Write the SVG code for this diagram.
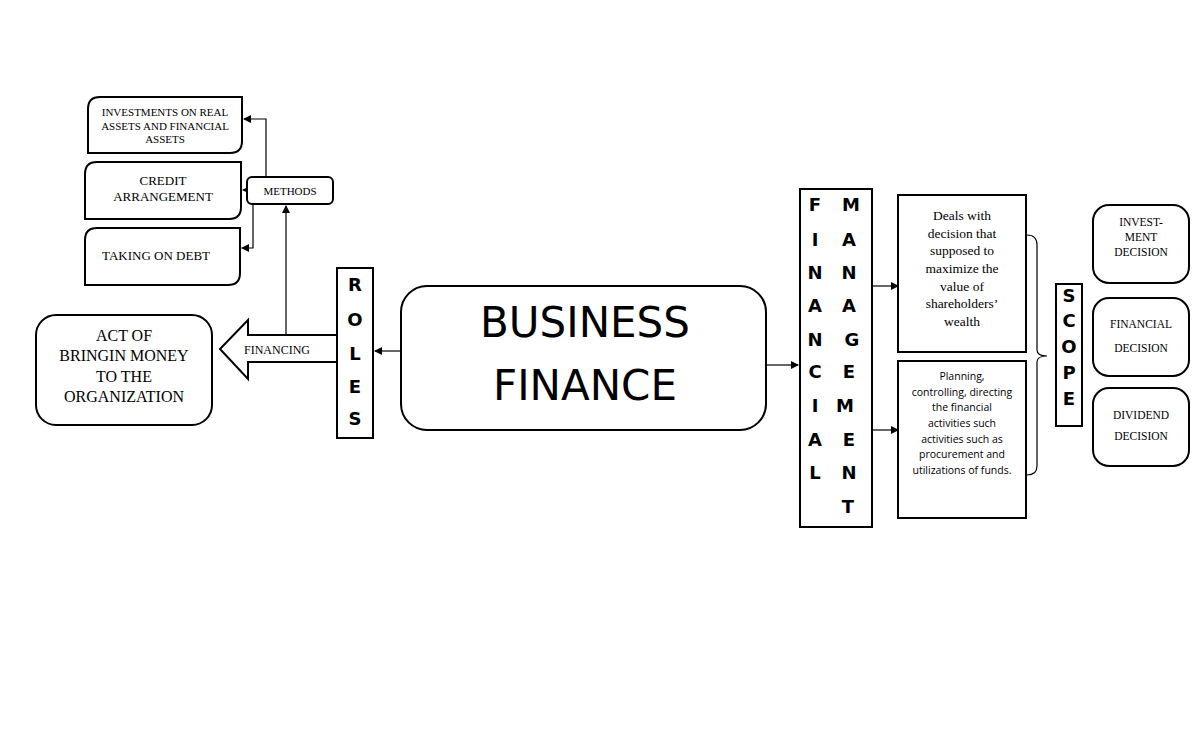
<svg xmlns="http://www.w3.org/2000/svg" width="1200" height="729" viewBox="0 0 1200 729">
<defs>
<marker id="ah" markerWidth="8" markerHeight="8" refX="7" refY="4" orient="auto" markerUnits="userSpaceOnUse"><path d="M0,0 L8,4 L0,8 Z" fill="#000"/></marker>
<style>
.b{fill:#fff;stroke:#000;stroke-width:2}
.t{font-family:"Liberation Serif",serif;text-anchor:middle;fill:#000}
.s{font-family:"DejaVu Sans",sans-serif;font-weight:bold;text-anchor:middle;font-size:18px}
.c{fill:none;stroke:#000;stroke-width:1.2}
</style>
</defs>
<rect width="1200" height="729" fill="#fff"/>
<g id="connectors">
<path class="c" d="M266,177 V119 H244" marker-end="url(#ah)"/>
<path class="c" d="M247,190 H243" marker-end="url(#ah)"/>
<path class="c" d="M253,204 V248 H242" marker-end="url(#ah)"/>
<path class="c" d="M286,335 V206" marker-end="url(#ah)"/>
<path class="c" d="M401,351 H375" marker-end="url(#ah)"/>
<path class="c" d="M766,365 H798" marker-end="url(#ah)"/>
<path class="c" d="M872,286 H898" marker-end="url(#ah)"/>
<path class="c" d="M872,430 H898" marker-end="url(#ah)"/>
<path class="c" d="M1027,235 Q1037,235 1037,245 V350 Q1037,356 1047,356 Q1037,356 1037,362 V466 Q1037,475 1027,475"/>
</g>
<g id="investments"><path class="b" d="M100,97 H242 V141 Q242,153 230,153 H88 V109 Q88,97 100,97 Z" stroke-width="1.5"/>
<text class="t" font-size="11"><tspan x="165" y="116">INVESTMENTS ON REAL</tspan><tspan x="165" y="130">ASSETS AND FINANCIAL</tspan><tspan x="165" y="143">ASSETS</tspan></text></g>
<g id="credit"><path class="b" d="M97,162 H241 V207 Q241,219 229,219 H85 V174 Q85,162 97,162 Z"/>
<text class="t" font-size="13"><tspan x="163" y="185">CREDIT</tspan><tspan x="163" y="201">ARRANGEMENT</tspan></text></g>
<g id="debt"><path class="b" d="M97,228 H240 V273 Q240,285 228,285 H85 V240 Q85,228 97,228 Z"/>
<text class="t" font-size="13" x="156" y="260">TAKING ON DEBT</text></g>
<g id="methods"><rect class="b" x="247" y="177" width="86" height="27" rx="5" stroke-width="1.5"/>
<text class="t" font-size="11" x="290" y="195">METHODS</text></g>
<g id="financing"><path class="b" d="M338,335 H248 V320 L220,349 L248,379 V362 H338" stroke-width="1.5"/>
<text class="t" font-size="12" x="277" y="354">FINANCING</text></g>
<g id="act"><rect class="b" x="36" y="315" width="176" height="110" rx="20"/>
<text class="t" font-size="16"><tspan x="124" y="341">ACT OF</tspan><tspan x="124" y="361">BRINGIN MONEY</tspan><tspan x="124" y="382">TO THE</tspan><tspan x="124" y="402">ORGANIZATION</tspan></text></g>
<g id="roles"><rect class="b" x="337" y="268" width="36" height="170"/>
<text class="s"><tspan x="355" y="291">R</tspan><tspan x="355" y="326">O</tspan><tspan x="355" y="360">L</tspan><tspan x="355" y="393">E</tspan><tspan x="355" y="425">S</tspan></text></g>
<g id="business"><rect class="b" x="401" y="286" width="365" height="144" rx="26"/>
<text font-family="DejaVu Sans,sans-serif" font-size="42" text-anchor="middle"><tspan x="585" y="337">BUSINESS</tspan><tspan x="585" y="400">FINANCE</tspan></text></g>
<g id="fm"><rect class="b" x="800" y="189" width="72" height="338"/>
<text class="s"><tspan x="815" y="211">F</tspan><tspan x="815" y="246">I</tspan><tspan x="815" y="279">N</tspan><tspan x="815" y="312">A</tspan><tspan x="815" y="346">N</tspan><tspan x="815" y="378">C</tspan><tspan x="815" y="412">I</tspan><tspan x="815" y="446">A</tspan><tspan x="815" y="479">L</tspan></text>
<text class="s"><tspan x="851" y="211">M</tspan><tspan x="849" y="246">A</tspan><tspan x="849" y="279">N</tspan><tspan x="849" y="312">A</tspan><tspan x="852" y="346">G</tspan><tspan x="849" y="378">E</tspan><tspan x="845" y="412">M</tspan><tspan x="849" y="446">E</tspan><tspan x="849" y="479">N</tspan><tspan x="848" y="513">T</tspan></text></g>
<g id="deals"><rect class="b" x="898" y="195" width="128" height="157" stroke-width="1.5"/>
<text class="t" font-size="13.5"><tspan x="962" y="220">Deals with</tspan><tspan x="962" y="238">decision that</tspan><tspan x="962" y="255">supposed to</tspan><tspan x="962" y="273">maximize the</tspan><tspan x="962" y="291">value of</tspan><tspan x="962" y="308">shareholders’</tspan><tspan x="962" y="326">wealth</tspan></text></g>
<g id="planning"><rect class="b" x="898" y="361" width="128" height="157" stroke-width="1.5"/>
<text font-family="Open Sans,sans-serif" font-size="10.5" text-anchor="middle"><tspan x="962" y="380">Planning,</tspan><tspan x="962" y="396">controlling, directing</tspan><tspan x="962" y="411">the financial</tspan><tspan x="962" y="427">activities such</tspan><tspan x="962" y="443">activities such as</tspan><tspan x="962" y="458">procurement and</tspan><tspan x="962" y="474">utilizations of funds.</tspan></text></g>
<g id="scope"><rect class="b" x="1056" y="284" width="26" height="142"/>
<text class="s" font-size="13"><tspan x="1069" y="302">S</tspan><tspan x="1069" y="327">C</tspan><tspan x="1069" y="353">O</tspan><tspan x="1069" y="379">P</tspan><tspan x="1069" y="405">E</tspan></text></g>
<g id="invest"><rect class="b" x="1093" y="205" width="96" height="78" rx="16"/>
<text class="t" font-size="11.5"><tspan x="1141" y="226">INVEST-</tspan><tspan x="1141" y="241">MENT</tspan><tspan x="1141" y="256">DECISION</tspan></text></g>
<g id="fin"><rect class="b" x="1093" y="298" width="96" height="78" rx="16"/>
<text class="t" font-size="11.5"><tspan x="1141" y="328">FINANCIAL</tspan><tspan x="1141" y="352">DECISION</tspan></text></g>
<g id="div"><rect class="b" x="1093" y="388" width="96" height="78" rx="16"/>
<text class="t" font-size="11.5"><tspan x="1141" y="419">DIVIDEND</tspan><tspan x="1141" y="440">DECISION</tspan></text></g>
</svg>
